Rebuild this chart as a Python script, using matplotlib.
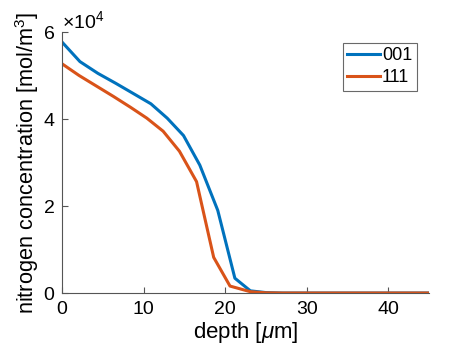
import matplotlib
matplotlib.use("Agg")
import matplotlib.pyplot as plt
from matplotlib.ticker import ScalarFormatter

# depth [um] and nitrogen concentration [mol/m^3]
depth_001 = [0, 2.2, 4.4, 6.6, 8.8, 10.9, 12.9, 14.9, 16.9, 19.1, 21.2,
             23.1, 25, 27, 30, 35, 40, 45]
conc_001 = [57700, 53200, 50500, 48200, 45800, 43500, 40200, 36200, 29400,
            19000, 3400, 500, 100, 0, 0, 0, 0, 0]

depth_111 = [0, 2.1, 4.2, 6.3, 8.4, 10.4, 12.4, 14.4, 16.5, 18.6, 20.6,
             23.1, 25, 27, 30, 35, 40, 45]
conc_111 = [52700, 50000, 47600, 45200, 42700, 40200, 37200, 32600, 25600,
            8200, 1600, 300, 50, 0, 0, 0, 0, 0]

labels = ["001", "111"]
colors = ["#0072BD", "#D95319"]


def main():
    plt.rcParams["font.family"] = ["Liberation Sans", "DejaVu Sans"]
    plt.rcParams["mathtext.fontset"] = "custom"
    plt.rcParams["mathtext.rm"] = "Liberation Sans"
    plt.rcParams["mathtext.it"] = "Liberation Sans:italic"

    fig = plt.figure(figsize=(4.74, 3.55), dpi=100)
    ax = fig.add_axes([0.1308, 0.1746, 0.7742, 0.7352])

    ax.plot(depth_001, conc_001, color=colors[0], lw=2.2, label=labels[0])
    ax.plot(depth_111, conc_111, color=colors[1], lw=2.2, label=labels[1])

    ax.set_xlim(0, 45)
    ax.set_ylim(0, 60000)
    ax.set_xticks([0, 10, 20, 30, 40])
    ax.set_yticks([0, 20000, 40000, 60000])

    fmt = ScalarFormatter(useMathText=True)
    fmt.set_powerlimits((0, 0))
    ax.yaxis.set_major_formatter(fmt)
    ax.yaxis.get_offset_text().set_fontsize(14)

    for s in ["top", "right"]:
        ax.spines[s].set_visible(False)
    for s in ["left", "bottom"]:
        ax.spines[s].set_color("#555555")
        ax.spines[s].set_linewidth(0.8)
    ax.tick_params(direction="in", length=4, width=0.8, color="#555555",
                   labelsize=14)
    ax.tick_params(axis="x", pad=6)
    ax.tick_params(axis="y", pad=5)

    ax.set_xlabel(r"depth [$\mu$m]", fontsize=16, labelpad=1)
    ax.set_ylabel(r"nitrogen concentration [mol/m$^3$]", fontsize=15.7,
                  labelpad=1)

    leg = ax.legend(loc="upper right", bbox_to_anchor=(0.967, 0.958),
                    fontsize=13, frameon=True, fancybox=False,
                    handlelength=1.8, handletextpad=0.12, borderpad=0.25,
                    labelspacing=0.25, borderaxespad=0)
    leg.get_frame().set_edgecolor("#444444")
    leg.get_frame().set_linewidth(0.8)

    fig.savefig("out.png", dpi=100)


if __name__ == "__main__":
    main()
